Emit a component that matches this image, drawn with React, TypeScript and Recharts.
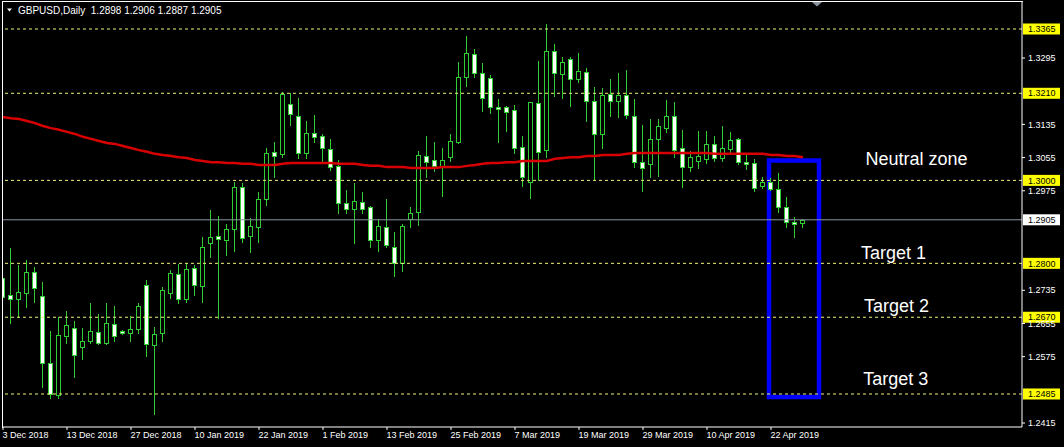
import React from 'react';
import {
  ComposedChart,
  Bar,
  Line,
  XAxis,
  YAxis,
  ReferenceLine,
  ReferenceArea,
  ReferenceDot,
} from 'recharts';

// ---- data (GBPUSD daily, bar index 0 = 3 Dec 2018) ----
const openP = [
  1.2765, 1.2724, 1.2714, 1.2729, 1.2779, 1.2721, 1.256, 1.2483, 1.2625, 1.2644,
  1.2598, 1.2613, 1.2635, 1.2608, 1.2654, 1.2637, 1.2632, 1.2642, 1.2748, 1.2603,
  1.2632, 1.2729, 1.2774, 1.2714, 1.2789, 1.2745, 1.2849, 1.2866, 1.2856, 1.2883,
  1.2984, 1.2866, 1.2888, 1.2955, 1.3068, 1.3064, 1.3184, 1.3155, 1.3066, 1.3114,
  1.3107, 1.3076, 1.3035, 1.2946, 1.2931, 1.2948, 1.2936, 1.2856, 1.2888, 1.2839,
  1.2801, 1.2907, 1.2924, 1.3059, 1.3049, 1.3035, 1.3056, 1.3093, 1.3249, 1.3305,
  1.3259, 1.3247, 1.3177, 1.3177, 1.317, 1.3081, 1.2996, 1.3187, 1.3073, 1.3312,
  1.3257, 1.3293, 1.3244, 1.3261, 1.3191, 1.3112, 1.3208, 1.3191, 1.3206, 1.3155,
  1.3044, 1.304, 1.31, 1.3126, 1.3155, 1.3078, 1.3032, 1.3047, 1.3052, 1.3088,
  1.3054, 1.3076, 1.31, 1.3044, 1.3042, 1.2987, 1.2996, 1.2979, 1.2936, 1.29,
  1.2898,
];
const highP = [
  1.2823, 1.2837, 1.2796, 1.2808, 1.2791, 1.2755, 1.2637, 1.2671, 1.2685, 1.2661,
  1.2644, 1.2704, 1.2678, 1.2704, 1.2697, 1.2639, 1.2673, 1.2704, 1.276, 1.2647,
  1.2743, 1.2784, 1.2798, 1.2801, 1.2796, 1.2864, 1.2929, 1.2914, 1.2895, 1.2996,
  1.2994, 1.2909, 1.2972, 1.3078, 1.3093, 1.3212, 1.3211, 1.3199, 1.3143, 1.3158,
  1.3112, 1.31, 1.3049, 1.2977, 1.2994, 1.2972, 1.2938, 1.2907, 1.2955, 1.2876,
  1.2895, 1.2936, 1.3071, 1.3107, 1.3093, 1.3078, 1.3112, 1.3285, 1.3348, 1.3317,
  1.3283, 1.3254, 1.3196, 1.3179, 1.3182, 1.3107, 1.319, 1.3288, 1.3377, 1.3329,
  1.3298, 1.3298, 1.3307, 1.3271, 1.3225, 1.3223, 1.3244, 1.3259, 1.3266, 1.3196,
  1.3134, 1.3148, 1.3148, 1.3194, 1.3189, 1.3122, 1.3071, 1.3119, 1.3119, 1.3107,
  1.3131, 1.3117, 1.3102, 1.3066, 1.3052, 1.3008, 1.3006, 1.3018, 1.296, 1.2912,
  1.2906,
];
const lowP = [
  1.2695, 1.2656, 1.2671, 1.2695, 1.2707, 1.2502, 1.2475, 1.2475, 1.2608, 1.2526,
  1.2569, 1.2608, 1.2606, 1.2606, 1.2613, 1.263, 1.2613, 1.2632, 1.2577, 1.2437,
  1.2613, 1.2716, 1.2704, 1.2707, 1.2724, 1.2707, 1.2815, 1.2668, 1.282, 1.283,
  1.2851, 1.2827, 1.2851, 1.2941, 1.3008, 1.3056, 1.3134, 1.3054, 1.3054, 1.3093,
  1.3042, 1.3025, 1.2921, 1.2921, 1.2849, 1.2921, 1.2839, 1.283, 1.2839, 1.277,
  1.2782, 1.2888, 1.2892, 1.3008, 1.3023, 1.2962, 1.3047, 1.309, 1.3228, 1.3249,
  1.3167, 1.3163, 1.3093, 1.3119, 1.3066, 1.2987, 1.2958, 1.3001, 1.3056, 1.3203,
  1.3199, 1.3179, 1.3237, 1.3143, 1.3003, 1.3078, 1.3155, 1.3153, 1.315, 1.3032,
  1.2974, 1.3008, 1.3011, 1.3117, 1.3056, 1.2984, 1.3023, 1.303, 1.3042, 1.3047,
  1.3047, 1.3066, 1.304, 1.3028, 1.2974, 1.2982, 1.2977, 1.2924, 1.2888, 1.2864,
  1.2887,
];
const closeP = [
  1.2719, 1.2714, 1.2731, 1.2779, 1.2741, 1.256, 1.2485, 1.2627, 1.2651, 1.2579,
  1.2613, 1.2637, 1.2608, 1.2656, 1.2625, 1.2632, 1.2642, 1.2697, 1.2606, 1.263,
  1.2736, 1.2777, 1.2714, 1.2786, 1.2748, 1.2839, 1.2864, 1.2859, 1.2883, 1.2984,
  1.2861, 1.289, 1.2955, 1.3066, 1.3059, 1.3208, 1.316, 1.3066, 1.3114, 1.3105,
  1.3078, 1.3032, 1.2946, 1.2931, 1.295, 1.2931, 1.2856, 1.289, 1.2844, 1.2801,
  1.289, 1.2921, 1.3061, 1.3044, 1.3035, 1.3049, 1.3095, 1.3249, 1.3307, 1.3259,
  1.3199, 1.3177, 1.3172, 1.3165, 1.3078, 1.3008, 1.3188, 1.3068, 1.3312, 1.3259,
  1.3285, 1.3244, 1.3264, 1.3191, 1.3112, 1.3206, 1.3191, 1.3206, 1.3158, 1.3044,
  1.303, 1.31, 1.3131, 1.3155, 1.3073, 1.3032, 1.3056, 1.3059, 1.3088, 1.3054,
  1.3078, 1.3097, 1.3044, 1.304, 1.2982, 1.2996, 1.2979, 1.2936, 1.29, 1.2895,
  1.2905,
];
const maP = [
  1.3153, 1.315, 1.3148, 1.3143, 1.3138, 1.3131, 1.3126, 1.3122, 1.3117, 1.3112,
  1.3105, 1.31, 1.3095, 1.309, 1.3088, 1.3083, 1.3078, 1.3073, 1.3069, 1.3064,
  1.3061, 1.3059, 1.3056, 1.3054, 1.3049, 1.3047, 1.3044, 1.3044, 1.3042, 1.3042,
  1.304, 1.304, 1.3037, 1.3037, 1.3037, 1.304, 1.3042, 1.3042, 1.3042, 1.3042,
  1.3042, 1.3042, 1.304, 1.304, 1.304, 1.3037, 1.3035, 1.3035, 1.3032, 1.3032,
  1.3032, 1.303, 1.303, 1.303, 1.303, 1.3032, 1.3032, 1.3032, 1.3035, 1.3037,
  1.304, 1.3042, 1.3042, 1.3044, 1.3044, 1.3047, 1.3047, 1.3047, 1.3047, 1.3052,
  1.3054, 1.3056, 1.3056, 1.3059, 1.3059, 1.3061, 1.3061, 1.3061, 1.3064, 1.3066,
  1.3066, 1.3066, 1.3066, 1.3066, 1.3066, 1.3066, 1.3066, 1.3066, 1.3066, 1.3064,
  1.3064, 1.3064, 1.3064, 1.3064, 1.3064, 1.3064, 1.3061, 1.3061, 1.3059, 1.3059,
  1.3056,
];

const dateTickIdx = [0, 8, 16, 24, 32, 40, 48, 56, 64, 72, 80, 88, 96];
const dateTickLabels = [
  '3 Dec 2018', '13 Dec 2018', '27 Dec 2018', '10 Jan 2019', '22 Jan 2019',
  '1 Feb 2019', '13 Feb 2019', '25 Feb 2019', '7 Mar 2019', '19 Mar 2019',
  '29 Mar 2019', '10 Apr 2019', '22 Apr 2019',
];
const priceTicks = [1.2415, 1.2575, 1.2655, 1.2735, 1.2975, 1.3055, 1.3135, 1.3295];
const levelLines = [1.3365, 1.321, 1.3, 1.28, 1.267, 1.2485];
const currentPrice = 1.2905;
const headerSymbol = 'GBPUSD,Daily';
const headerOHLC = [1.2898, 1.2906, 1.2887, 1.2905];
const xDomain: [number, number] = [-0.125, 127.375];
const yDomain: [number, number] = [1.24054, 1.34325];
const zoneBox = { x1: 95.75, x2: 102, y1: 1.2478, y2: 1.3048 };
const notes = [
  { text: 'Neutral zone', x: 114.2, y: 1.3053 },
  { text: 'Target 1', x: 111.3, y: 1.2826 },
  { text: 'Target 2', x: 111.7, y: 1.2698 },
  { text: 'Target 3', x: 111.6, y: 1.2521 },
];

const data = openP.map((o, i) => ({
  i,
  open: o,
  high: highP[i],
  low: lowP[i],
  close: closeP[i],
  ma: maP[i],
}));

const FONT = '"Liberation Sans", Arial, Helvetica, sans-serif';
const GREEN = '#32cd32';

const Candle = (props: any) => {
  const { x, y, width, height, payload } = props;
  if (!payload || x == null || y == null || height == null) return null;
  const { open, close, high, low } = payload;
  const span = high - low || 1e-9;
  const toY = (p: number) => y + ((high - p) / span) * height;
  const cx = Math.floor(x + width / 2) + 0.5;
  const yH = Math.round(y);
  const yL = Math.round(y + height);
  const top = Math.round(toY(Math.max(open, close)));
  const bot = Math.round(toY(Math.min(open, close)));
  const bear = close < open;
  return (
    <g>
      <line x1={cx} x2={cx} y1={yH} y2={yL + 1} stroke={GREEN} strokeWidth={1} />
      {bot - top < 1 ? (
        <line x1={cx - 2.5} x2={cx + 2.5} y1={top + 0.5} y2={top + 0.5} stroke={GREEN} strokeWidth={1} />
      ) : (
        <rect
          x={cx - 2}
          y={top + 0.5}
          width={4}
          height={bot - top}
          fill={bear ? '#ffffff' : '#000000'}
          stroke={GREEN}
          strokeWidth={1}
        />
      )}
    </g>
  );
};

const DateTick = (props: any) => {
  const { x, y, payload } = props;
  const idx = dateTickIdx.indexOf(payload.value);
  return (
    <text x={x - 0.5} y={y} dy="0.71em" fill="#ffffff" fontSize={9} fontFamily={FONT} textAnchor="start">
      {idx >= 0 ? dateTickLabels[idx] : ''}
    </text>
  );
};

const makeTag = (value: number, bg: string) => (props: any) => {
  const vb = props.viewBox || {};
  const right = (vb.x || 0) + (vb.width || 0);
  const cy = vb.y || 0;
  return (
    <g>
      <rect x={right + 1} y={cy - 5.5} width={37} height={11} fill={bg} />
      <text x={right + 6} y={cy} dy="0.355em" fill="#000000" fontSize={9} fontFamily={FONT}>
        {value.toFixed(4)}
      </text>
    </g>
  );
};

export default function App() {
  return (
    <div
      style={{
        position: 'absolute',
        left: 0,
        top: 0,
        width: 1064,
        height: 447,
        background: '#000000',
        overflow: 'hidden',
      }}
    >
      <ComposedChart
        width={1064}
        height={447}
        data={data}
        margin={{ top: 1, right: 0, bottom: 0, left: 2 }}
        style={{ fontFamily: FONT }}
      >
        <XAxis
          dataKey="i"
          type="number"
          domain={xDomain}
          allowDataOverflow
          ticks={dateTickIdx}
          interval={0}
          tick={<DateTick />}
          tickSize={3}
          tickLine={{ stroke: '#ffffff' }}
          axisLine={{ stroke: '#ffffff' }}
          height={20}
        />
        <YAxis
          orientation="right"
          type="number"
          domain={yDomain}
          allowDataOverflow
          ticks={priceTicks}
          interval={0}
          width={42}
          tickSize={3}
          tickMargin={3}
          tickLine={{ stroke: '#ffffff' }}
          axisLine={{ stroke: '#ffffff' }}
          tick={{ fill: '#ffffff', fontSize: 9, fontFamily: FONT }}
          tickFormatter={(v: number) => v.toFixed(4)}
        />
        {levelLines.map((lv) => (
          <ReferenceLine
            key={lv}
            y={lv}
            stroke="#f2f27a"
            strokeDasharray="3 3"
            strokeWidth={1}
            label={makeTag(lv, '#ffff00')}
          />
        ))}
        <ReferenceLine y={currentPrice} stroke="#8a94a2" strokeWidth={1} label={makeTag(currentPrice, '#ffffff')} />
        <Line
          dataKey="ma"
          type="linear"
          stroke="#d80000"
          strokeWidth={2.5}
          dot={false}
          activeDot={false}
          isAnimationActive={false}
        />
        <Bar
          dataKey={(d: any) => [d.low, d.high]}
          barSize={7}
          shape={<Candle />}
          isAnimationActive={false}
        />
        <ReferenceArea
          x1={zoneBox.x1}
          x2={zoneBox.x2}
          y1={zoneBox.y1}
          y2={zoneBox.y2}
          fill="none"
          fillOpacity={0}
          stroke="#0000ff"
          strokeWidth={4.5}
          strokeOpacity={1}
          ifOverflow="visible"
        />
        {notes.map((n) => (
          <ReferenceDot
            key={n.text}
            x={n.x}
            y={n.y}
            r={1}
            fill="none"
            stroke="none"
            ifOverflow="visible"
            label={{ value: n.text, position: 'center', fill: '#ffffff', fontSize: 18, fontFamily: FONT }}
          />
        ))}
      </ComposedChart>
      <div
        style={{
          position: 'absolute',
          left: 2,
          top: 1,
          width: 1021,
          height: 427,
          boxSizing: 'border-box',
          borderTop: '1px solid #ffffff',
          borderLeft: '1px solid #ffffff',
          pointerEvents: 'none',
        }}
      />
      <svg
        width={1064}
        height={20}
        style={{ position: 'absolute', left: 0, top: 0, pointerEvents: 'none' }}
      >
        <polygon points="7,8.5 12,8.5 9.5,11.5" fill="#ffffff" />
        <text x={18} y={13.5} fill="#ffffff" fontSize={10} fontFamily={FONT} style={{ whiteSpace: 'pre' }}>
          {headerSymbol + '  ' + headerOHLC.map((v) => v.toFixed(4)).join(' ')}
        </text>
        <polygon points="812,2 822,2 817,6.5" fill="#8c94a0" />
      </svg>
    </div>
  );
}
